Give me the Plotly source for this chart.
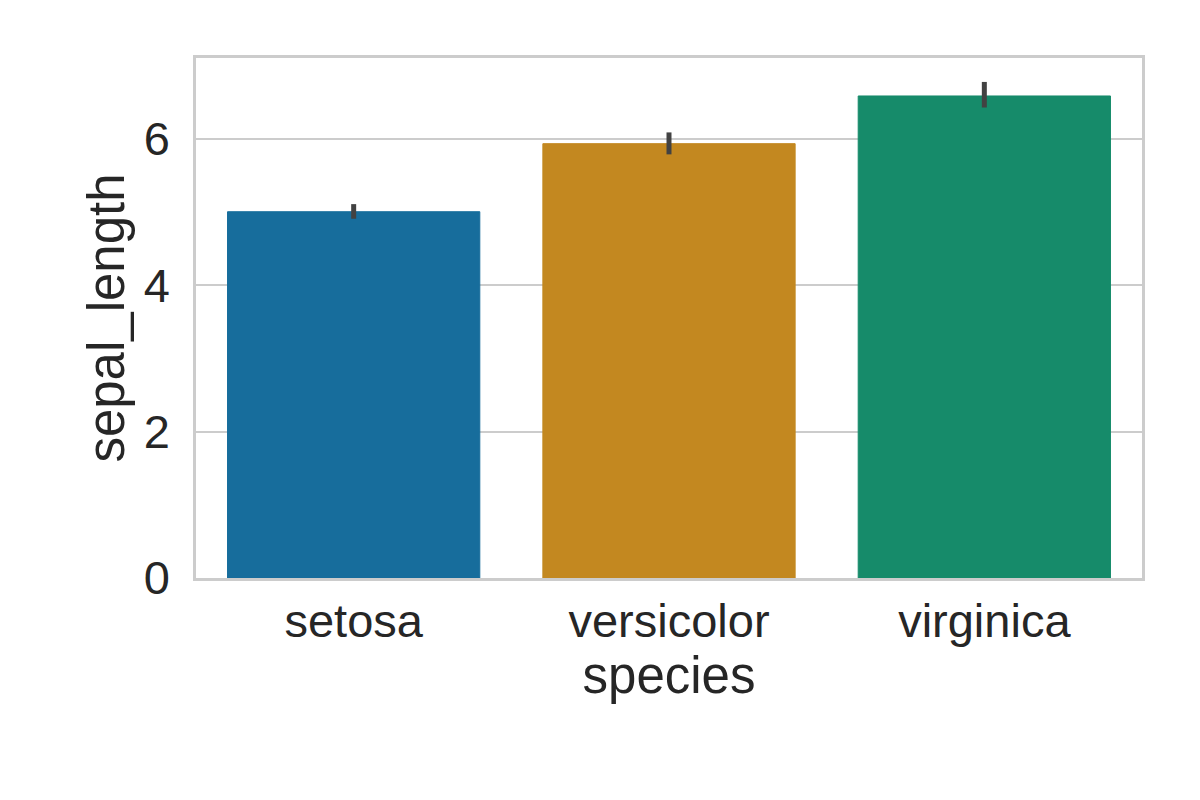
import plotly.graph_objects as go

# iris sepal length by species (mean with 95% CI)
species = ["setosa", "versicolor", "virginica"]
mean_sepal_length = [5.006, 5.936, 6.588]
ci_low = [4.91, 5.79, 6.43]
ci_high = [5.11, 6.09, 6.78]

bar_colors = ["#176d9c", "#c38820", "#168b6a"]
text_color = "#262626"
grid_color = "#cccccc"

err_plus = [h - m for h, m in zip(ci_high, mean_sepal_length)]
err_minus = [m - l for m, l in zip(mean_sepal_length, ci_low)]

fig = go.Figure(go.Bar(
    x=species,
    y=mean_sepal_length,
    width=0.8,
    marker=dict(color=bar_colors, line=dict(color=bar_colors, width=1)),
    error_y=dict(type="data", symmetric=False, array=err_plus, arrayminus=err_minus,
                 color="#424242", thickness=5, width=0),
))

fig.update_layout(
    width=1200, height=800,
    margin=dict(l=188, r=66, t=50, b=230),
    plot_bgcolor="white", paper_bgcolor="white",
    font=dict(family="Liberation Sans, Arial, sans-serif", color=text_color, size=47),
    showlegend=False,
)
fig.update_xaxes(
    range=[-0.5, 2.5], showgrid=False,
    showline=True, mirror=True, linecolor=grid_color, linewidth=2.5,
    ticks="outside", ticklen=0, tickcolor="rgba(0,0,0,0)",
    tickfont=dict(size=47),
    title=dict(text="species", font=dict(size=51), standoff=6),
)
fig.update_yaxes(
    range=[0, 7.107], tickvals=[0, 2, 4, 6],
    showgrid=True, gridcolor=grid_color, gridwidth=2, zeroline=False,
    showline=True, mirror=True, linecolor=grid_color, linewidth=2.5,
    ticks="outside", ticklen=14, tickcolor="rgba(0,0,0,0)",
    tickfont=dict(size=47),
    title=dict(text="sepal_length", font=dict(size=51), standoff=3),
)

fig.write_html("out.html")
